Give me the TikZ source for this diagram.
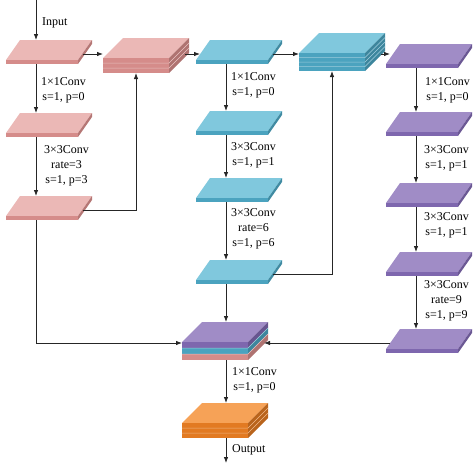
\documentclass[tikz,border=0pt]{standalone}
\usepackage{fontspec}
\setmainfont{Liberation Serif}
\usetikzlibrary{arrows.meta}
\definecolor{pinktop}{HTML}{EBB8B6}
\definecolor{pinkside}{HTML}{D58C8A}
\definecolor{cyantop}{HTML}{80C8DD}
\definecolor{cyanside}{HTML}{4BA3BF}
\definecolor{purpletop}{HTML}{A08CC6}
\definecolor{purpleside}{HTML}{7E67AE}
\definecolor{orangetop}{HTML}{F6A257}
\definecolor{orangeside}{HTML}{E27A22}
\tikzset{
  tap/.store in=\tapx, tap=30,
  ply/.store in=\plyh, ply=5,
  conn/.style={draw=black!85, line width=0.8pt, -{Latex[length=6pt,width=4.5pt]}},
  lbl/.style={anchor=west, align=center, inner sep=0pt, font=\fontsize{12}{15}\selectfont},
  pics/plate/.style 2 args={code={
    \fill[fill=#1] (0,0) -- (72,0) -- (86,-20) -- (14,-20) -- cycle;
    \fill[fill=#2] (0,0) rectangle (72,4);
    \fill[fill=#2!85!black] (72,0) -- (86,-20) -- (86,-16) -- (72,4) -- cycle;
    \coordinate (-in) at (\tapx,-20);
    \coordinate (-out) at (\tapx,4);
    \coordinate (-east) at (77,-6);
    \coordinate (-west) at (4,-6);
  }},
  pics/block/.style 2 args={code={
    \fill[fill=#1] (0,0) -- (66,0) -- (86,-20) -- (20,-20) -- cycle;
    \foreach \c [count=\i from 0] in {#2} {
      \fill[fill=\c] (0,\i*\plyh) rectangle (66,\i*\plyh+\plyh);
      \fill[fill=\c!82!black] (66,\i*\plyh) -- (86,\i*\plyh-20) -- (86,\i*\plyh+\plyh-20) -- (66,\i*\plyh+\plyh) -- cycle;
      \ifnum\i>0
        \draw[draw=white!45!\c, line width=0.5pt] (0,\i*\plyh) -- (66,\i*\plyh) -- (86,\i*\plyh-20);
      \fi
      \coordinate (-out) at (\tapx,\i*\plyh+\plyh);
    }
    \coordinate (-in) at (\tapx,-20);
    \coordinate (-west) at (0,1);
    \coordinate (-east) at (82,-2);
  }},
}
\begin{document}
\begin{tikzpicture}[x=1pt,y=-1pt]
\useasboundingbox (0,0) rectangle (474,463);
% pink branch
\pic (pk1) at (6,60) {plate={pinktop}{pinkside}};
\pic (pk2) at (6,133) {plate={pinktop}{pinkside}};
\pic (pk3) at (6,216) {plate={pinktop}{pinkside}};
\pic[tap=33] (pc) at (103,58) {block={pinktop}{pinkside,pinkside,pinkside}};
% cyan branch
\pic (cy1) at (196,60) {plate={cyantop}{cyanside}};
\pic (cy2) at (196,131) {plate={cyantop}{cyanside}};
\pic (cy3) at (196,198) {plate={cyantop}{cyanside}};
\pic (cy4) at (196,280) {plate={cyantop}{cyanside}};
\pic[tap=33,ply=4.5] (cc) at (299,53) {block={cyantop}{cyanside,cyanside,cyanside,cyanside}};
% purple branch
\pic (pp1) at (386,64) {plate={purpletop}{purpleside}};
\pic (pp2) at (386,132) {plate={purpletop}{purpleside}};
\pic (pp3) at (386,203) {plate={purpletop}{purpleside}};
\pic (pp4) at (386,272) {plate={purpletop}{purpleside}};
\pic (pp5) at (386,349) {plate={purpletop}{purpleside}};
% fusion
\pic[tap=44,ply=6] (fin) at (182,342) {block={purpletop}{purpleside,cyanside,pinkside}};
\pic[tap=44] (org) at (182,423) {block={orangetop}{orangeside,orangeside,orangeside}};

\coordinate (in0) at (36,0);
\coordinate (out0) at (226,463);

\draw[conn] (in0) -- (pk1-in);
\draw[conn] (pk1-out) -- (pk2-in);
\draw[conn] (pk2-out) -- (pk3-in);
\draw[conn] (pk1-east) -- (pk1-east -| pc-west);
\draw[conn] (pk3-east) -| (pc-out);
\draw[conn] (pc-east |- cy1-west) -- (cy1-west);
\draw[conn] (cy1-out) -- (cy2-in);
\draw[conn] (cy2-out) -- (cy3-in);
\draw[conn] (cy3-out) -- (cy4-in);
\draw[conn] (cy1-east) -- (cy1-east -| cc-west);
\draw[conn] (cy4-east) -| (cc-out);
\draw[conn] (cc-east |- cc-west) -- (cc-west -| pp1-west);
\draw[conn] (pp1-out) -- (pp2-in);
\draw[conn] (pp2-out) -- (pp3-in);
\draw[conn] (pp3-out) -- (pp4-in);
\draw[conn] (pp4-out) -- (pp5-in);
\draw[conn] (cy4-out) -- (fin-in);
\draw[conn] (pk3-out) |- (fin-west);
\draw[conn] (pp5-west) -- (pp5-west -| fin-east);
\draw[conn] (fin-out) -- (org-in);
\draw[conn] (org-out) -- (out0);

\node[lbl, anchor=base west] (tin) at (42,25) {Input};
\node[lbl] (l1) at (41,90) {1×1Conv\\s=1, p=0};
\node[lbl] (l2) at (44,166) {3×3Conv\\rate=3\\s=1, p=3};
\node[lbl] (l3) at (231,85) {1×1Conv\\s=1, p=0};
\node[lbl] (l4) at (231,155) {3×3Conv\\s=1, p=1};
\node[lbl] (l5) at (231,229) {3×3Conv\\rate=6\\s=1, p=6};
\node[lbl] (l6) at (425,90) {1×1Conv\\s=1, p=0};
\node[lbl] (l7) at (424,158) {3×3Conv\\s=1, p=1};
\node[lbl] (l8) at (424,225) {3×3Conv\\s=1, p=1};
\node[lbl] (l9) at (424,301) {3×3Conv\\rate=9\\s=1, p=9};
\node[lbl] (l10) at (232,380) {1×1Conv\\s=1, p=0};
\node[lbl, anchor=base west] (tout) at (232,452) {Output};
\end{tikzpicture}
\end{document}
